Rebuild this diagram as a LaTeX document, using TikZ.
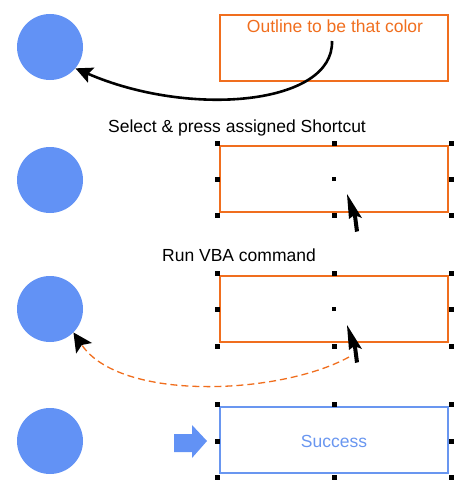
\documentclass[tikz,border=0pt]{standalone}
\usepackage{fontspec}
\setmainfont{Liberation Sans}
\usetikzlibrary{arrows.meta}
\definecolor{dotblue}{RGB}{98,146,245}
\definecolor{boxorange}{RGB}{240,110,30}
\definecolor{boxblue}{RGB}{105,150,240}
\begin{document}
\begin{tikzpicture}[x=1pt,y=-1pt,
  dot/.style={circle,fill=dotblue,minimum size=66pt,inner sep=0pt},
  obox/.style={draw=boxorange,line width=2pt,minimum width=228pt,minimum height=66pt,inner sep=0pt},
  bbox/.style={draw=boxblue,line width=2pt,minimum width=228pt,minimum height=66pt,inner sep=0pt},
  hdl/.style={rectangle,fill=black,minimum size=5pt,inner sep=0pt},
  cdot/.style={rectangle,fill=black,minimum size=3.5pt,inner sep=0pt},
  lbl/.style={font=\fontsize{17.5}{20}\selectfont,inner sep=0pt},
  cursor/.style={fill=black}]
\useasboundingbox (0,0) rectangle (474,495);
% circles
\node[dot] (c1) at (50,47) {};
\node[dot] (c2) at (50,180) {};
\node[dot] (c3) at (50,309) {};
\node[dot] (c4) at (50,441) {};
% box 1
\node[obox] (b1) at (334,48) {};
\node[lbl,text=boxorange] (t1) at (335,26) {Outline to be that color};
\coordinate (s1) at (332,41);
\draw[line width=2.6pt,-{Stealth[length=17pt,width=16pt,inset=3pt]}] (s1) .. controls (334,105) and (190,118) .. (c1.-40);
% label 2
\node[lbl] (t2) at (237,128) {Select \& press assigned Shortcut};
% box 2
\node[obox] (b2) at (334,179) {};
\foreach \hx/\hy [count=\i] in {217/143,334/143,451/143,217/179,451/179,217/215,334/215,451/215}
  \node[hdl] (hb2-\i) at (\hx,\hy) {};
\node[cdot] (cb2) at (334,179) {};
\fill[cursor] (347,194) -- (349,219) -- (353,216) -- (355,232) -- (359,231) -- (357,216) -- (362,218) -- cycle;
% label 3
\node[lbl] (t3) at (239,255) {Run VBA command};
% box 3
\node[obox] (b3) at (334,309) {};
\foreach \hx/\hy [count=\i] in {217/273,334/273,451/273,217/309,451/309,217/346,334/346,451/346}
  \node[hdl] (hb3-\i) at (\hx,\hy) {};
\node[cdot] (cb3) at (334,309) {};
\fill[cursor] (347,325) -- (349,350) -- (353,347) -- (355,363) -- (359,362) -- (357,347) -- (362,349) -- cycle;
\coordinate (s3) at (349,357);
\draw[boxorange,line width=1.3pt,dash pattern=on 7pt off 4pt,-{Stealth[black,length=19pt,width=19pt,inset=4pt]}] (s3) .. controls (280,395) and (120,402) .. (c3.-45);
% box 4
\node[bbox] (b4) at (334,440) {};
\node[lbl,text=boxblue] (t4) at (334,441) {Success};
\foreach \hx/\hy [count=\i] in {217/404,334/404,451/404,217/441,451/441,217/477,334/477,451/477}
  \node[hdl] (hb4-\i) at (\hx,\hy) {};
\fill[dotblue] (174,434) -- (192,434) -- (192,425) -- (207,441) -- (192,458) -- (192,452) -- (174,452) -- cycle;
\end{tikzpicture}
\end{document}
